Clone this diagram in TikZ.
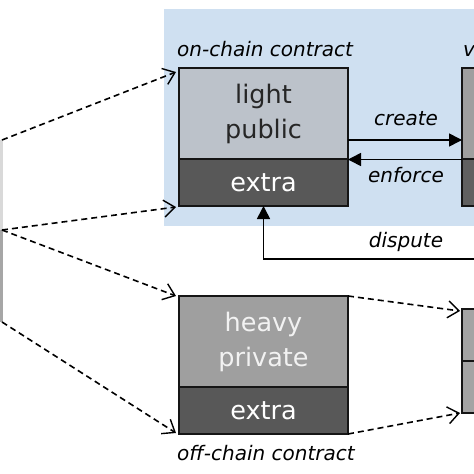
\documentclass[tikz,border=0pt]{standalone}
\usepackage{fontspec}
\setmainfont{DejaVu Sans}
\usetikzlibrary{arrows.meta}
\definecolor{bgblue}{HTML}{CFE0F1}
\definecolor{lightfill}{HTML}{BCC2CA}
\definecolor{midfill}{HTML}{9F9F9F}
\definecolor{darkfill}{HTML}{585858}
\definecolor{edgec}{HTML}{151515}
\begin{document}
\begin{tikzpicture}[x=1pt,y=-1pt,
  part/.style={draw=edgec,line width=2pt,rectangle,inner sep=0pt,outer sep=0pt,align=center},
  bigtxt/.style={font=\fontsize{25.5}{35}\selectfont},
  lbl/.style={font=\fontsize{20}{24}\selectfont\itshape,inner sep=0pt},
  dasharrow/.style={dash pattern=on 6pt off 4pt,line width=1.6pt,-{Straight Barb[length=11pt,width=17pt,line width=1.4pt]}},
  solidarrow/.style={line width=1.6pt,-{Triangle[length=13pt,width=13pt]}}]
\useasboundingbox (0,0) rectangle (474,474);
\clip (0,0) rectangle (474,474);
% blue background
\fill[bgblue] (164,9) rectangle (480,226);
% left (cut) box
\node[rectangle,fill=black!15,minimum width=40pt,minimum height=90pt,inner sep=0pt,outer sep=0pt] (ltop) at (-17,185) {};
\node[rectangle,fill=black!35,minimum width=40pt,minimum height=92pt,inner sep=0pt,outer sep=0pt] (lbot) at (-17,276) {};
\coordinate (lA) at (2,140);
\coordinate (lB) at (2,230);
\coordinate (lC) at (2,322);
% on-chain contract
\node[part,fill=lightfill,minimum width=169pt,minimum height=91pt,bigtxt,text=black!85] (lpub) at (263.5,113.5) {light\\public};
\node[part,fill=darkfill,minimum width=169pt,minimum height=47pt,bigtxt,text=white] (lext) at (263.5,182.5) {extra};
\node[lbl,anchor=base west] (onlbl) at (177,56) {on-chain contract};
% right top box
\node[part,fill=midfill,minimum width=40pt,minimum height=91pt] (vtop) at (482,113.5) {};
\node[part,fill=darkfill!95,minimum width=40pt,minimum height=47pt] (vbot) at (482,182.5) {};
\node[lbl,anchor=base west] (vlbl) at (463,56) {v};
% create / enforce
\draw[solidarrow] (lpub.east |- 0,140) -- (vtop.west |- 0,140);
\node[lbl,anchor=base] (create) at (406,125) {create};
\draw[solidarrow] (vbot.west |- 0,159.5) -- (lext.east |- 0,159.5);
\node[lbl,anchor=base] (enforce) at (406,182) {enforce};
% dispute
\coordinate (dispR) at (480,259);
\draw[solidarrow] (dispR) -| (lext.south);
\node[lbl,anchor=base] (dispute) at (406,247) {dispute};
% off-chain contract
\node[part,fill=midfill,minimum width=169pt,minimum height=91pt,bigtxt,text=white!95!black] (hpriv) at (263.5,341.5) {heavy\\private};
\node[part,fill=darkfill,minimum width=169pt,minimum height=47pt,bigtxt,text=white] (hext) at (263.5,410.5) {extra};
\node[lbl,anchor=base west] (offlbl) at (177,460) {off-chain contract};
% right lower box
\node[part,fill=midfill!95!white,minimum width=40pt,minimum height=52pt] (rtop) at (482,335) {};
\node[part,fill=midfill!95!white,minimum width=40pt,minimum height=52pt] (rbot) at (482,387) {};
% dashed arrows
\draw[dasharrow] (lA) -- ([xshift=-3pt,yshift=-4pt]lpub.north west);
\draw[dasharrow] (lB) -- ([xshift=-3pt,yshift=-1pt]lext.south west);
\draw[dasharrow] (lB) -- ([xshift=-3pt]hpriv.north west);
\draw[dasharrow] (lC) -- ([xshift=-3pt,yshift=1pt]hext.south west);
\draw[dasharrow] (hpriv.north east) -- ([xshift=-2pt,yshift=-2pt]rtop.north west);
\draw[dasharrow] (hext.south east) -- ([xshift=-2pt,yshift=0pt]rbot.south west);
\end{tikzpicture}
\end{document}
